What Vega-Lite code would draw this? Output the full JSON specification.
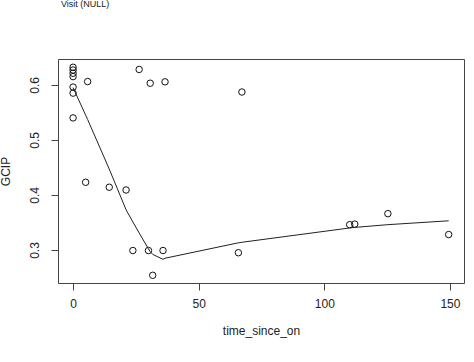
{
  "$schema": "https://vega.github.io/schema/vega-lite/v6.json",
  "autosize": {"type": "none"},
  "width": 406,
  "height": 224,
  "padding": {"left": 58, "top": 59, "right": 10, "bottom": 79},
  "background": "white",
  "title": {"text": "Visit (NULL)", "anchor": "start", "frame": "group", "orient": "top", "offset": 50, "dx": 3, "fontSize": 9, "font": "Liberation Sans", "fontWeight": "normal", "color": "#222"},
  "config": {
    "view": {"stroke": "#444", "strokeWidth": 1},
    "font": "Liberation Sans",
    "axis": {"grid": false, "domain": false, "tickColor": "#444", "tickSize": 7, "labelFont": "Liberation Sans", "titleFont": "Liberation Sans", "labelFontSize": 12, "titleFontSize": 12, "titleFontWeight": "normal", "labelColor": "#222", "titleColor": "#222"}
  },
  "layer": [
    {
      "data": {"values": [
        {"time_since_on": 0, "GCIP": 0.632},
        {"time_since_on": 0, "GCIP": 0.627},
        {"time_since_on": 0, "GCIP": 0.621},
        {"time_since_on": 0, "GCIP": 0.615},
        {"time_since_on": 0, "GCIP": 0.596},
        {"time_since_on": 0, "GCIP": 0.585},
        {"time_since_on": 0, "GCIP": 0.540},
        {"time_since_on": 5.8, "GCIP": 0.606},
        {"time_since_on": 5.0, "GCIP": 0.423},
        {"time_since_on": 14.4, "GCIP": 0.414},
        {"time_since_on": 21.1, "GCIP": 0.409},
        {"time_since_on": 23.8, "GCIP": 0.299},
        {"time_since_on": 26.3, "GCIP": 0.628},
        {"time_since_on": 30.0, "GCIP": 0.299},
        {"time_since_on": 30.7, "GCIP": 0.603},
        {"time_since_on": 31.7, "GCIP": 0.254},
        {"time_since_on": 35.8, "GCIP": 0.299},
        {"time_since_on": 36.6, "GCIP": 0.6055},
        {"time_since_on": 65.8, "GCIP": 0.295},
        {"time_since_on": 67.2, "GCIP": 0.587},
        {"time_since_on": 110.1, "GCIP": 0.346},
        {"time_since_on": 112.1, "GCIP": 0.347},
        {"time_since_on": 125.3, "GCIP": 0.366},
        {"time_since_on": 149.5, "GCIP": 0.328}
      ]},
      "mark": {"type": "point", "shape": "circle", "filled": false, "stroke": "#111", "strokeWidth": 1, "size": 42, "opacity": 1},
      "encoding": {
        "x": {"field": "time_since_on", "type": "quantitative", "scale": {"domain": [-6, 155.6], "nice": false, "zero": false},
              "axis": {"values": [0, 50, 100, 150], "title": "time_since_on", "labelPadding": 8, "titlePadding": 16, "format": "d"}},
        "y": {"field": "GCIP", "type": "quantitative", "scale": {"domain": [0.24, 0.647], "nice": false, "zero": false},
              "axis": {"values": [0.3, 0.4, 0.5, 0.6], "title": "GCIP", "format": ".1f", "labelAngle": -90, "labelAlign": "center", "labelBaseline": "bottom", "labelPadding": 10, "titlePadding": 16}}
      }
    },
    {
      "data": {"values": [
        {"time_since_on": 0, "fit": 0.595},
        {"time_since_on": 5.0, "fit": 0.545},
        {"time_since_on": 5.8, "fit": 0.537},
        {"time_since_on": 14.4, "fit": 0.447},
        {"time_since_on": 21.1, "fit": 0.373},
        {"time_since_on": 23.8, "fit": 0.351},
        {"time_since_on": 26.3, "fit": 0.331},
        {"time_since_on": 30.0, "fit": 0.302},
        {"time_since_on": 30.7, "fit": 0.297},
        {"time_since_on": 31.7, "fit": 0.292},
        {"time_since_on": 35.8, "fit": 0.283},
        {"time_since_on": 36.6, "fit": 0.285},
        {"time_since_on": 65.8, "fit": 0.313},
        {"time_since_on": 67.2, "fit": 0.314},
        {"time_since_on": 110.1, "fit": 0.340},
        {"time_since_on": 112.1, "fit": 0.341},
        {"time_since_on": 125.3, "fit": 0.346},
        {"time_since_on": 149.5, "fit": 0.353}
      ]},
      "mark": {"type": "line", "color": "#222", "strokeWidth": 1},
      "encoding": {
        "x": {"field": "time_since_on", "type": "quantitative"},
        "y": {"field": "fit", "type": "quantitative"}
      }
    }
  ]
}
